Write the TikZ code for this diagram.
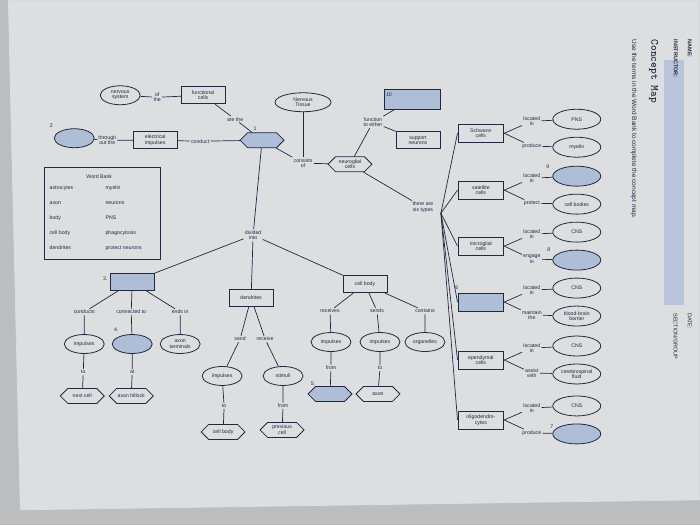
\documentclass[tikz,border=0pt]{standalone}
\usepackage{fontspec}
\setmainfont{Liberation Sans}
\usetikzlibrary{shapes.geometric,shapes.symbols}
\definecolor{ink}{RGB}{35,40,65}
\definecolor{shade}{RGB}{175,190,215}
\definecolor{paper}{RGB}{220,222,224}
\begin{document}
\begin{tikzpicture}[x=1pt,y=-1pt,
  every node/.style={font=\fontsize{5.2}{5.6}\selectfont, text=ink, align=center, inner sep=1pt},
  every path/.style={draw=ink, line width=0.7pt},
  bx/.style={draw=ink, thick, rectangle, minimum width=44pt, minimum height=17pt},
  el/.style={draw=ink, thick, ellipse, minimum width=40pt, minimum height=19pt, inner sep=0pt},
  elr/.style={draw=ink, thick, ellipse, minimum width=48pt, minimum height=20pt, inner sep=0pt},
  hx/.style={draw=ink, thick, signal, signal to=east and west, minimum width=44pt, minimum height=15pt},
  sh/.style={fill=shade},
  lb/.style={fill=paper}]
\useasboundingbox (0,0) rectangle (700,525);
\fill[paper!85!black] (0,0) rectangle (700,525);
\fill[paper] (8,0) -- (700,0) -- (700,500) -- (20,510) -- cycle;
\fill[shade!80!paper, draw=none] (664,60) rectangle (684,305);
% header
\node[rotate=-90, font=\fontsize{5.5}{6}\bfseries\selectfont, anchor=west] (hname) at (690,38) {NAME:};
\node[rotate=-90, font=\fontsize{5.5}{6}\bfseries\selectfont, anchor=west] (hinst) at (676,38) {INSTRUCTOR:};
\node[rotate=-90, font=\fontsize{11}{12}\bfseries\ttfamily\selectfont, anchor=west] (htitle) at (654,38) {Concept Map};
\node[rotate=-90, font=\fontsize{6.5}{7}\selectfont, anchor=west] (hinstr) at (634,38) {Use the terms in the Word Bank to complete the concept map.};
\node[rotate=-90, font=\fontsize{5.5}{6}\selectfont, anchor=west] (hdate) at (690,312) {DATE:};
\node[rotate=-90, font=\fontsize{5.5}{6}\selectfont, anchor=west] (hsec) at (676,312) {SECTION/GROUP};
% top
\node[el] (ns) at (120,95) {nervous\\system};
\node[lb] (of) at (157,97) {of\\the};
\node[bx] (fc) at (203,95) {functional\\cells};
\node[lb] (are) at (235,119) {are the};
\node[hx,sh] (n1) at (262,140) {};
\node (l1) at (255,128) {1};
\node[el,minimum width=56pt] (nt) at (303,102) {Nervous\\Tissue};
\node[bx,sh,minimum width=56pt,minimum height=20pt] (n10) at (412,99) {};
\node (l10) at (389,94) {10};
\node[lb] (fte) at (373,122) {function\\to either};
\node[bx] (sn) at (418,140) {support\\neurons};
\node[el,sh] (n2) at (74,138) {};
\node (l2) at (51,125) {2};
\node[lb] (thr) at (107,140) {through\\out the};
\node[bx] (ei) at (155,140) {electrical\\impulses};
\node[lb] (cond) at (200,141) {conduct};
\node[lb] (cons) at (303,163) {consists\\of};
\node[hx] (ng) at (350,164) {neuroglial\\cells};
\node[lb] (six) at (423,207) {there are\\six types};
\coordinate (sixr) at (441,213);
\draw (ns)--(of)--(fc); \draw (fc)--(are)--(n1);
\draw (n2)--(thr)--(ei)--(cond)--(n1);
\draw (n1)--(cons)--(ng); \draw (nt)--(cons);
\draw (ng)--(fte); \draw (fte)--(n10); \draw (fte)--(sn);
\draw (ng)--(six);
% word bank
\node[draw=ink,thick,minimum width=116pt,minimum height=92pt] (wb) at (102,213) {};
\node (wbt) at (99,176) {Word Bank};
\foreach \a/\b/\y [count=\i] in {astrocytes/myelin/188, axon/neurons/203, body/PNS/218, cell body/phagocytosis/233, dendrites/protect neurons/248}{
  \node[anchor=west] (wl\i) at (48,\y) {\a};
  \node[anchor=west] (wr\i) at (104,\y) {\b};}
% divided
\node[lb] (div) at (253,235) {divided\\into};
\node[bx,sh] (n3) at (132,282) {};
\node (l3) at (105,279) {3.};
\node[bx] (den) at (251,298) {dendrites};
\node[bx] (cb) at (365,284) {cell body};
\draw (n1)--(div); \draw (div)--(n3.north east); \draw (div)--(den); \draw (div)--(cb.north west);
\node[lb] (cd) at (84,312) {conducts};
\node[lb] (ct) at (131,312) {connected to};
\node[lb] (ein) at (180,312) {ends in};
\node[el] (imp1) at (84,344) {impulses};
\node[el,sh] (n4) at (132,344) {};
\node (l4) at (116,330) {4.};
\node[el] (at) at (180,344) {axon\\terminals};
\node[lb] (to1) at (83,372) {to};
\node[lb] (at1) at (132,372) {at};
\node[hx] (nc) at (82,396) {next cell};
\node[hx] (ah) at (131,396) {axon hillock};
\draw (n3)--(cd)--(imp1)--(to1)--(nc);
\draw (n3)--(ct)--(n4)--(at1)--(ah);
\draw (n3)--(ein)--(at);
\node[lb] (snd) at (240,339) {send};
\node[lb] (rcv) at (265,339) {receive};
\node[el] (imp2) at (222,376) {impulses};
\node[el] (stim) at (283,376) {stimuli};
\node[lb] (to2) at (224,406) {to};
\node[lb] (fr2) at (283,406) {from};
\node[hx] (cb2) at (223,432) {cell body};
\node[hx] (pc) at (282,430) {previous\\cell};
\draw (den)--(snd)--(imp2)--(to2)--(cb2);
\draw (den)--(rcv)--(stim)--(fr2)--(pc);
\node[lb] (rcs) at (330,311) {receives};
\node[lb] (sds) at (377,311) {sends};
\node[lb] (cts) at (425,311) {contains};
\node[el] (imp3) at (331,342) {impulses};
\node[el] (imp4) at (380,342) {impulses};
\node[el] (org) at (425,342) {organelles};
\node[lb] (fr3) at (331,368) {from};
\node[lb] (to3) at (380,368) {to};
\node[hx,sh] (n5) at (330,394) {};
\node (l5) at (313,384) {5.};
\node[hx] (ax) at (378,394) {axon};
\draw (cb)--(rcs)--(imp3)--(fr3)--(n5);
\draw (cb)--(sds)--(imp4)--(to3)--(ax);
\draw (cb)--(cts)--(org);
% right column
\foreach \nm/\txt/\y/\s/\la/\lb/\ea/\eb/\sa/\sb in {
  sch/{Schwann\\cells}/133/{}/{located\\in}/{produce}/PNS/myelin/{}/{},
  sat/{satellite\\cells}/190/{}/{located\\in}/{protect}/{}/{cell bodies}/sh/{},
  mic/{microglial\\cells}/246/{}/{located\\in}/{engage\\in}/CNS/{}/{}/sh,
  six6/{}/302/sh/{located\\in}/{maintain\\the}/CNS/{blood-brain\\barrier}/{}/{},
  epe/{ependymal\\cells}/360/{}/{located\\in}/{assist\\with}/CNS/{cerebrospinal\\fluid}/{}/{},
  oli/{oligodendro-\\cytes}/420/{}/{located\\in}/{produce}/CNS/{}/{}/sh}{
  \node[bx,\s,minimum width=46pt,minimum height=18pt] (\nm) at (481,\y) {\txt};
  \node[lb] (\nm la) at (532,\y-12) {\la};
  \node[lb] (\nm lb) at (532,\y+13) {\lb};
  \node[elr,\sa] (\nm ea) at (577,\y-14) {\ea};
  \node[elr,\sb] (\nm eb) at (577,\y+14) {\eb};
  \draw (\nm.east)--(\nm la)--(\nm ea);
  \draw (\nm.east)--(\nm lb)--(\nm eb);
  \draw (sixr)--(\nm.west);
}
\node (l6) at (457,288) {6};
\node (l9) at (548,167) {9};
\node (l8) at (549,250) {8};
\node (l7) at (552,427) {7};
\end{tikzpicture}
\end{document}
